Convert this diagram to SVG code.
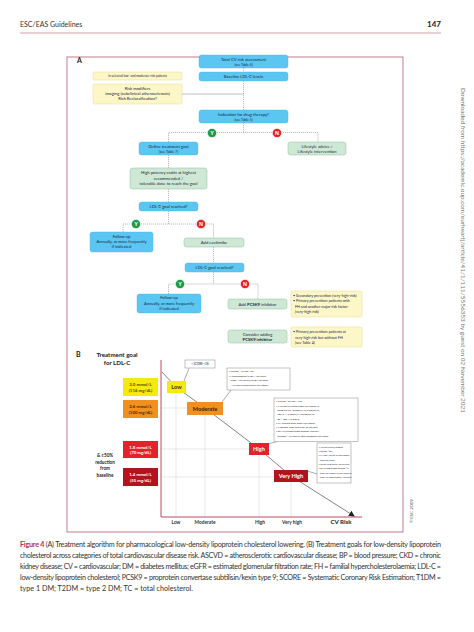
<svg xmlns="http://www.w3.org/2000/svg" width="474" height="632" viewBox="0 0 474 632">
<defs>
<style>
.t{font-family:Lato,"Liberation Sans",sans-serif;fill:#1a2540;text-anchor:middle}
.tl{font-family:Lato,"Liberation Sans",sans-serif;fill:#1a2540}
.bl{fill:#5ac6f1;stroke:#46b4e0;stroke-width:0.4}
.gr{fill:#cfe8d6;stroke:#8cc39c;stroke-width:0.5}
.ye{fill:#fdf7c8;stroke:#e6d98a;stroke-width:0.5}
.dash{stroke:#8a8a8a;stroke-width:0.55;stroke-dasharray:1.2 0.8;fill:none}
.solid{stroke:#8a8a8a;stroke-width:0.55;fill:none}
.grid{stroke:#d9d9d9;stroke-width:0.6;fill:none}
.co{fill:#ffffff;stroke:#7a7a7a;stroke-width:0.45}
.cot{font-family:Lato,"Liberation Sans",sans-serif;fill:#222;font-size:2.4px}
.cl{stroke:#444;stroke-width:0.45;fill:none}
.yn{font-family:"Liberation Sans",sans-serif;font-weight:bold;fill:#fff;font-size:5.5px;text-anchor:middle}
.cap{font-family:Lato,"Liberation Sans",sans-serif;font-size:7.2px;fill:#333}
</style>
<marker id="arr" markerWidth="6" markerHeight="6" refX="5" refY="3" orient="auto" markerUnits="userSpaceOnUse">
<path d="M0,0 L6,3 L0,6 Z" fill="#222"/>
</marker>
</defs>
<rect width="474" height="632" fill="#ffffff"/>

<!-- header -->
<text x="20" y="27" class="tl" style="font-size:7px;fill:#333">ESC/EAS Guidelines</text>
<text x="441" y="27" class="tl" style="font-size:8px;font-weight:bold;text-anchor:end;fill:#222">147</text>
<line x1="20" y1="33" x2="441" y2="33" stroke="#c58d98" stroke-width="0.8"/>

<!-- figure border -->
<rect x="67" y="57" width="336" height="475" fill="none" stroke="#b35d70" stroke-width="0.8"/>
<text x="77" y="63" class="tl" style="font-size:7px;font-weight:bold;fill:#222">A</text>

<!-- connectors panel A -->
<g id="connectors">
<line class="dash" x1="243.5" y1="68" x2="243.5" y2="72"/>
<line class="dash" x1="243.5" y1="81" x2="243.5" y2="110"/>
<line class="solid" x1="182" y1="94" x2="243.5" y2="94"/>
<line class="dash" x1="243.5" y1="123" x2="243.5" y2="132.5"/>
<polyline class="dash" points="168.5,142 168.5,132.5 318,132.5 318,142"/>
<line class="dash" x1="168.5" y1="155" x2="168.5" y2="168"/>
<line class="dash" x1="168.5" y1="189" x2="168.5" y2="202"/>
<line class="dash" x1="168.5" y1="211" x2="168.5" y2="224"/>
<polyline class="dash" points="123,232 123,224 213.5,224 213.5,238"/>
<line class="dash" x1="213.5" y1="247" x2="213.5" y2="263"/>
<line class="dash" x1="213.5" y1="272" x2="213.5" y2="284"/>
<polyline class="dash" points="168.5,294 168.5,284 258,284 258,299"/>
</g>

<!-- nodes panel A -->
<g id="n-total">
<rect class="bl" x="199" y="55" width="89" height="13" rx="2.5"/>
<text class="t" x="243.5" y="61.3" style="font-size:4.2px">Total CV risk assessment</text>
<text class="t" x="243.5" y="66" style="font-size:3.4px">(see Table 4)</text>
</g>
<g id="n-baseline">
<rect class="bl" x="199" y="72" width="89" height="9" rx="2.5"/>
<text class="t" x="243.5" y="78" style="font-size:4.2px">Baseline LDL-C levels</text>
</g>
<g id="n-selected">
<rect class="ye" x="93" y="72" width="89" height="8" rx="1.5"/>
<text class="t" x="137.5" y="77.3" style="font-size:3.1px">In selected low- and moderate-risk patients</text>
</g>
<g id="n-modifiers">
<rect class="ye" x="93" y="84" width="89" height="20" rx="1.5"/>
<text class="t" x="137.5" y="89.5" style="font-size:4.2px">Risk modifiers</text>
<text class="t" x="137.5" y="94.6" style="font-size:4.2px">imaging (subclinical atherosclerosis)</text>
<text class="t" x="137.5" y="99.7" style="font-size:4.2px">Risk Reclassification?</text>
</g>
<g id="n-indication">
<rect class="bl" x="199" y="110" width="89" height="13" rx="2.5"/>
<text class="t" x="243.5" y="116" style="font-size:4.2px">Indication for drug therapy?</text>
<text class="t" x="243.5" y="120.7" style="font-size:3.4px">(see Table 5)</text>
</g>
<g id="y1"><circle cx="212" cy="133" r="4.6" fill="#1b9a4a" stroke="#fff" stroke-width="0.6"/><text class="yn" x="212" y="135">Y</text></g>
<g id="n1"><circle cx="277" cy="133" r="4.6" fill="#e3212b" stroke="#fff" stroke-width="0.6"/><text class="yn" x="277" y="135">N</text></g>
<g id="n-define">
<rect class="bl" x="139" y="142" width="59" height="13" rx="2.5"/>
<text class="t" x="168.5" y="147.8" style="font-size:4.2px">Define treatment goal</text>
<text class="t" x="168.5" y="152.6" style="font-size:3.6px">(see Table 7)</text>
</g>
<g id="n-lifestyle">
<rect class="gr" x="288" y="142" width="58" height="13" rx="2.5"/>
<text class="t" x="317" y="147.8" style="font-size:4.2px">Lifestyle advice /</text>
<text class="t" x="317" y="152.6" style="font-size:4.2px">Lifestyle intervention</text>
</g>
<g id="n-statin">
<rect class="gr" x="130" y="168" width="77" height="21" rx="2.5"/>
<text class="t" x="168.5" y="174" style="font-size:4.2px">High potency statin at highest</text>
<text class="t" x="168.5" y="179.6" style="font-size:4.2px">recommended /</text>
<text class="t" x="168.5" y="185.2" style="font-size:4.2px">tolerable dose to reach the goal</text>
</g>
<g id="n-goal1">
<rect class="bl" x="139" y="202" width="59" height="9" rx="2.5"/>
<text class="t" x="168.5" y="208" style="font-size:4.2px">LDL-C goal reached?</text>
</g>
<g id="y2"><circle cx="136" cy="224" r="4.6" fill="#1b9a4a" stroke="#fff" stroke-width="0.6"/><text class="yn" x="136" y="226">Y</text></g>
<g id="n2"><circle cx="201" cy="224" r="4.6" fill="#e3212b" stroke="#fff" stroke-width="0.6"/><text class="yn" x="201" y="226">N</text></g>
<g id="n-follow1">
<rect class="bl" x="90" y="232" width="63" height="20" rx="2.5"/>
<text class="t" x="121.5" y="237.5" style="font-size:4px">Follow-up</text>
<text class="t" x="121.5" y="242.9" style="font-size:4px">Annually, or more frequently</text>
<text class="t" x="121.5" y="248.3" style="font-size:4px">if indicated</text>
</g>
<g id="n-ezetimibe">
<rect class="gr" x="184" y="238" width="60" height="9" rx="2.5"/>
<text class="t" x="214" y="244" style="font-size:4.2px">Add ezetimibe</text>
</g>
<g id="n-goal2">
<rect class="bl" x="185" y="263" width="59" height="9" rx="2.5"/>
<text class="t" x="214.5" y="269" style="font-size:4.2px">LDL-C goal reached?</text>
</g>
<g id="y3"><circle cx="180" cy="284" r="4.6" fill="#1b9a4a" stroke="#fff" stroke-width="0.6"/><text class="yn" x="180" y="286">Y</text></g>
<g id="n3"><circle cx="245" cy="284" r="4.6" fill="#e3212b" stroke="#fff" stroke-width="0.6"/><text class="yn" x="245" y="286">N</text></g>
<g id="n-follow2">
<rect class="bl" x="137" y="294" width="64" height="19" rx="2.5"/>
<text class="t" x="169" y="299.3" style="font-size:4px">Follow-up</text>
<text class="t" x="169" y="304.6" style="font-size:4px">Annually, or more frequently</text>
<text class="t" x="169" y="309.9" style="font-size:4px">if indicated</text>
</g>
<g id="n-pcsk9">
<rect class="gr" x="228" y="299" width="59" height="10" rx="2.5"/>
<text class="t" x="257.5" y="305.5" style="font-size:4.2px">Add <tspan font-weight="bold">PCSK9</tspan> inhibitor</text>
</g>
<g id="n-yellow1">
<rect class="ye" x="291" y="291" width="71" height="26" rx="1.5"/>
<text class="tl" x="293" y="296.6" style="font-size:3.7px">• Secondary prevention (very-high-risk)</text>
<text class="tl" x="293" y="302.1" style="font-size:3.7px">• Primary prevention: patients with</text>
<text class="tl" x="295" y="307.6" style="font-size:3.7px">FH and another major risk factor</text>
<text class="tl" x="295" y="313.1" style="font-size:3.7px">(very-high risk)</text>
</g>
<g id="n-consider">
<rect class="gr" x="228" y="330" width="59" height="13" rx="2.5"/>
<text class="t" x="257.5" y="335.6" style="font-size:4.2px">Consider adding</text>
<text class="t" x="257.5" y="340.8" style="font-size:4.2px;font-weight:bold">PCSK9 inhibitor</text>
</g>
<g id="n-yellow2">
<rect class="ye" x="291" y="327" width="71" height="20" rx="1.5"/>
<text class="tl" x="293" y="333" style="font-size:3.7px">• Primary prevention: patients at</text>
<text class="tl" x="295" y="338.5" style="font-size:3.7px">very-high risk but without FH</text>
<text class="tl" x="295" y="344" style="font-size:3.7px">(see Table 4)</text>
</g>

<!-- Panel B -->
<text x="76" y="357" class="tl" style="font-size:7px;font-weight:bold;fill:#222">B</text>
<text x="117" y="357" class="t" style="font-size:6.2px;font-weight:bold;fill:#222">Treatment goal</text>
<text x="117" y="365" class="t" style="font-size:6.2px;font-weight:bold;fill:#222">for LDL-C</text>

<g id="grid">
<line class="grid" x1="176" y1="387" x2="176" y2="517"/>
<line class="grid" x1="205" y1="408" x2="205" y2="517"/>
<line class="grid" x1="259" y1="449" x2="259" y2="517"/>
<line class="grid" x1="291" y1="476" x2="291" y2="517"/>
<line class="grid" x1="161" y1="408" x2="205" y2="408"/>
<line class="grid" x1="161" y1="449" x2="259" y2="449"/>
<line class="grid" x1="161" y1="477" x2="291" y2="477"/>
</g>
<g id="axes">
<line x1="161" y1="360" x2="161" y2="517" stroke="#b0384f" stroke-width="0.9"/>
<line x1="161" y1="517" x2="362" y2="517" stroke="#b0384f" stroke-width="0.9"/>
<polyline points="162,372 176,387 205,408 259,449 291,476 354,516" fill="none" stroke="#333" stroke-width="0.6" marker-end="url(#arr)"/>
</g>

<g id="target-30">
<rect x="123" y="378" width="35" height="18" fill="#f6ea0c"/>
<text class="t" x="140.5" y="386" style="font-size:4.4px;font-weight:bold;fill:#5a4a10">3.0 mmol/L</text>
<text class="t" x="140.5" y="391.5" style="font-size:4.4px;font-weight:bold;fill:#5a4a10">(116 mg/dL)</text>
</g>
<g id="target-26">
<rect x="123" y="400" width="35" height="18" fill="#f0911f"/>
<text class="t" x="140.5" y="408" style="font-size:4.4px;font-weight:bold;fill:#4a2a10">2.6 mmol/L</text>
<text class="t" x="140.5" y="413.5" style="font-size:4.4px;font-weight:bold;fill:#4a2a10">(100 mg/dL)</text>
</g>
<g id="target-18">
<rect x="123" y="441" width="35" height="17" fill="#e3222c"/>
<text class="t" x="140.5" y="448.7" style="font-size:4.4px;font-weight:bold;fill:#fff">1.8 mmol/L</text>
<text class="t" x="140.5" y="454.2" style="font-size:4.4px;font-weight:bold;fill:#fff">(70 mg/dL)</text>
</g>
<g id="target-14">
<rect x="123" y="468" width="35" height="18" fill="#b3131d"/>
<text class="t" x="140.5" y="476" style="font-size:4.4px;font-weight:bold;fill:#fff">1.4 mmol/L</text>
<text class="t" x="140.5" y="481.5" style="font-size:4.4px;font-weight:bold;fill:#fff">(55 mg/dL)</text>
</g>
<g id="reduction">
<text class="t" x="105" y="457" style="font-size:4.6px;font-weight:bold;fill:#222">&amp; ≥50%</text>
<text class="t" x="105" y="463.5" style="font-size:4.6px;font-weight:bold;fill:#222">reduction</text>
<text class="t" x="105" y="470" style="font-size:4.6px;font-weight:bold;fill:#222">from</text>
<text class="t" x="105" y="476.5" style="font-size:4.6px;font-weight:bold;fill:#222">baseline</text>
</g>

<g id="risk-low">
<rect x="167" y="381" width="19" height="12" fill="#f6ea0c"/>
<text class="t" x="176.5" y="389.3" style="font-size:5.6px;font-weight:bold;fill:#3a3010">Low</text>
</g>
<g id="risk-moderate">
<rect x="187" y="402" width="36" height="13" fill="#f0911f"/>
<text class="t" x="205" y="410.7" style="font-size:5.6px;font-weight:bold;fill:#3a2010">Moderate</text>
</g>
<g id="risk-high">
<rect x="249" y="443" width="20" height="12" fill="#e3222c"/>
<text class="t" x="259" y="451.3" style="font-size:5.6px;font-weight:bold;fill:#fff">High</text>
</g>
<g id="risk-veryhigh">
<rect x="274" y="470" width="34" height="12" fill="#b3131d"/>
<text class="t" x="291" y="478.3" style="font-size:5.6px;font-weight:bold;fill:#fff">Very High</text>
</g>

<g id="callouts">
<line class="cl" x1="189" y1="368.5" x2="184" y2="381"/>
<line class="cl" x1="231" y1="390" x2="222" y2="402"/>
<line class="cl" x1="277" y1="441.5" x2="268" y2="444"/>
<line class="cl" x1="317.5" y1="474" x2="307" y2="471"/>
<g id="c-low">
<rect class="co" x="185" y="360" width="30" height="8"/>
<text class="cot" x="200" y="365.2" style="text-anchor:middle;font-size:2.8px">&lt; SCORE &lt;1%</text>
</g>
<g id="c-mod">
<rect class="co" x="227" y="368" width="63" height="22"/>
<text class="cot" x="229" y="372">• SCORE ≥1% and &lt;5%</text>
<text class="cot" x="229" y="376.6">• Young patients (T1DM &lt;35 years;</text>
<text class="cot" x="230.5" y="381.2">T2DM &lt;50 years) with DM duration</text>
<text class="cot" x="230.5" y="385.8">&lt;10 years without other risk factors</text>
</g>
<g id="c-high">
<rect class="co" x="274" y="398" width="84" height="43.5"/>
<text class="cot" x="276" y="402.3">• SCORE ≥5% and &lt;10%</text>
<text class="cot" x="276" y="406.6">• Markedly elevated single risk factors, in</text>
<text class="cot" x="277.5" y="410.9">particular TC &gt;8 mmol/L (310 mg/dL) or</text>
<text class="cot" x="277.5" y="415.2">LDL-C &gt;4.9 mmol/L (190 mg/dL) or</text>
<text class="cot" x="277.5" y="419.5">BP ≥180/110 mmHg</text>
<text class="cot" x="276" y="423.8">• FH without other major risk factors</text>
<text class="cot" x="276" y="428.1">• Moderate CKD (eGFR 30–59 mL/min)</text>
<text class="cot" x="276" y="432.4">• DM w/o target organ damage, with DM</text>
<text class="cot" x="277.5" y="436.7">duration ≥10 years or other additional risk factor</text>
</g>
<g id="c-vhigh">
<rect class="co" x="317" y="443" width="34" height="40"/>
<text class="cot" x="318.5" y="447.8" style="font-size:2.1px">• ASCVD (clinical/imaging)</text>
<text class="cot" x="318.5" y="452.1" style="font-size:2.1px">• SCORE ≥10%</text>
<text class="cot" x="318.5" y="456.4" style="font-size:2.1px">• FH with ASCVD or with another</text>
<text class="cot" x="319.8" y="460.7" style="font-size:2.1px">major risk factor</text>
<text class="cot" x="318.5" y="465" style="font-size:2.1px">• Severe CKD (eGFR &lt;30 mL/min)</text>
<text class="cot" x="318.5" y="469.3" style="font-size:2.1px">• DM &amp; target organ damage; ≥3</text>
<text class="cot" x="319.8" y="473.6" style="font-size:2.1px">major risk factors; or early onset of</text>
<text class="cot" x="319.8" y="477.9" style="font-size:2.1px">T1DM of long duration (&gt;20 years)</text>
</g>
</g>

<g id="xlabels">
<text class="t" x="176" y="524" style="font-size:4.8px;font-weight:bold;fill:#333">Low</text>
<text class="t" x="205" y="524" style="font-size:4.8px;font-weight:bold;fill:#333">Moderate</text>
<text class="t" x="260" y="524" style="font-size:4.8px;font-weight:bold;fill:#333">High</text>
<text class="t" x="292" y="524" style="font-size:4.8px;font-weight:bold;fill:#333">Very high</text>
<text class="t" x="341" y="524" style="font-size:6.2px;font-weight:bold;fill:#222">CV Risk</text>
</g>

<text transform="translate(413,511) rotate(-90)" class="t" style="font-size:4.6px;fill:#555">©ESC 2019</text>
<text transform="translate(461,88) rotate(90)" class="tl" style="font-size:5.2px;fill:#777" textLength="325" lengthAdjust="spacingAndGlyphs">Downloaded from https://academic.oup.com/eurheartj/article/41/1/111/5556353 by guest on 02 November 2021</text>

<!-- caption -->
<text class="cap" x="20" y="547" textLength="421" lengthAdjust="spacing"><tspan font-weight="bold" fill="#b5304b">Figure 4</tspan>  (A) Treatment algorithm for pharmacological low-density lipoprotein cholesterol lowering. (B) Treatment goals for low-density lipoprotein</text>
<text class="cap" x="20" y="558" textLength="421" lengthAdjust="spacing">cholesterol across categories of total cardiovascular disease risk. ASCVD = atherosclerotic cardiovascular disease; BP = blood pressure; CKD = chronic</text>
<text class="cap" x="20" y="569" textLength="421" lengthAdjust="spacing">kidney disease; CV = cardiovascular; DM = diabetes mellitus; eGFR = estimated glomerular filtration rate; FH = familial hypercholesterolaemia; LDL-C =</text>
<text class="cap" x="20" y="580" textLength="421" lengthAdjust="spacing">low-density lipoprotein cholesterol; PCSK9 = proprotein convertase subtilisin/kexin type 9; SCORE = Systematic Coronary Risk Estimation; T1DM =</text>
<text class="cap" x="20" y="591">type 1 DM; T2DM = type 2 DM; TC = total cholesterol.</text>
</svg>
